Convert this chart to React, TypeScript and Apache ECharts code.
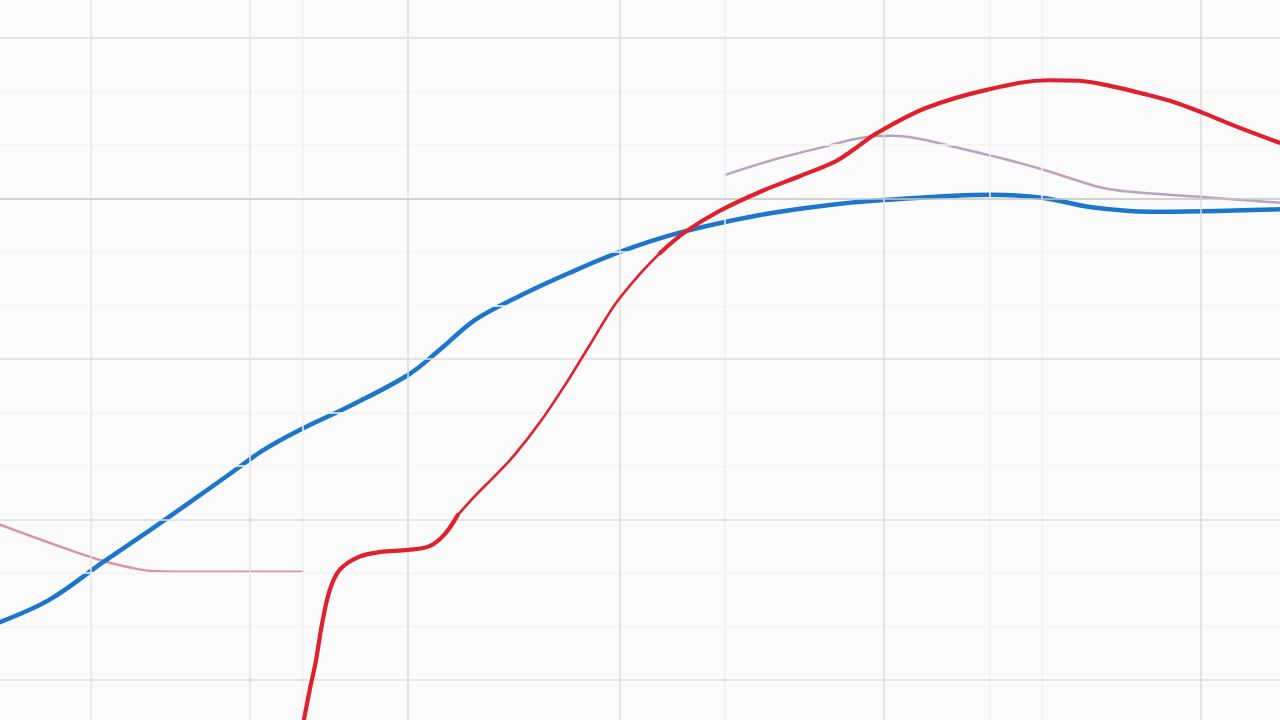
import React, { useEffect, useRef } from "react";
import * as echarts from "echarts";

// x in grid units (one minor column), y in grid units (one minor row)
const X_RANGE = [-1.72, 22.5];
const Y_RANGE = [-0.75, 12.71];

const blueSeries: [number, number][] = [
  [-1.72, 1.08], [-0.78, 1.5], [0.23, 2.2], [1.12, 2.8], [1.93, 3.36], [2.7, 3.9],
  [3.24, 4.28], [3.95, 4.67], [4.9, 5.12], [6.0, 5.7], [6.6, 6.17], [7.27, 6.73],
  [8.12, 7.18], [9.06, 7.61], [10.01, 8.0], [11.14, 8.36], [12.66, 8.69], [13.9, 8.87],
  [15.0, 8.97], [17.01, 9.07], [18.03, 9.01], [18.9, 8.84], [20.04, 8.75], [22.5, 8.8],
];

const redSeriesA: [number, number][] = [
  [4.03, -0.75], [4.14, -0.19], [4.26, 0.37], [4.37, 1.03], [4.52, 1.68], [4.71, 2.06],
  [5.07, 2.3], [5.47, 2.39], [6.0, 2.43], [6.41, 2.5], [6.7, 2.73], [6.94, 3.08],
];

const redSeriesB: [number, number][] = [
  [6.94, 3.08], [7.27, 3.44], [7.64, 3.81], [8.02, 4.21], [8.5, 4.82], [8.97, 5.51],
  [9.44, 6.26], [9.91, 7.01], [10.39, 7.59], [10.77, 7.98],
];

const redSeriesC: [number, number][] = [
  [10.77, 7.98], [11.24, 8.37], [11.9, 8.77], [12.7, 9.14], [13.42, 9.42], [14.1, 9.7],
  [14.47, 9.94], [14.87, 10.22], [15.8, 10.69], [16.95, 11.03], [18.11, 11.21],
  [18.7, 11.2], [19.3, 11.1], [19.9, 10.96], [20.5, 10.8], [21.04, 10.6], [21.74, 10.32],
  [22.5, 10.04],
];

const pinkSeries: [number, number][] = [
  [-1.72, 2.9], [-0.78, 2.56], [0.17, 2.24], [0.79, 2.09], [1.21, 2.03], [2.06, 2.02], [4.01, 2.02],
];

const mauveSeries: [number, number][] = [
  [12.0, 9.44], [12.9, 9.72], [13.85, 9.96], [14.68, 10.15], [15.18, 10.17], [15.69, 10.11],
  [16.44, 9.94], [17.2, 9.76], [18.15, 9.5], [19.09, 9.21], [19.72, 9.12], [20.98, 9.03],
  [21.93, 8.96], [22.5, 8.92],
];

const majorRows = [0, 3, 6, 12];
const baseRow = [9];
const minorRows = [1, 2, 4, 5, 7, 8, 10, 11];
const majorCols = [6, 10, 15, 21];
const lightCols = [0, 3];
const minorCols = [4, 12, 17, 18];

export default function App() {
  const ref = useRef<HTMLDivElement>(null);
  useEffect(() => {
    if (!ref.current) return;
    const chart = echarts.init(ref.current, undefined, { renderer: "svg" });
    const ml = (vals: number[], axis: "xAxis" | "yAxis", color: string, width: number) =>
      vals.map((v) => ({ [axis]: v, lineStyle: { color, width, type: "solid" } }));
    const lineSeries = (data: [number, number][], color: string, width: number, z: number) => ({
      type: "line",
      data,
      smooth: 0.35,
      showSymbol: false,
      symbol: "none",
      z,
      lineStyle: { color, width, cap: "round", join: "round" },
      silent: true,
    });
    chart.setOption({
      animation: false,
      backgroundColor: "#fbfbfb",
      grid: { left: 0, right: 0, top: 0, bottom: 0 },
      xAxis: { type: "value", min: X_RANGE[0], max: X_RANGE[1], show: false },
      yAxis: { type: "value", min: Y_RANGE[0], max: Y_RANGE[1], show: false },
      series: [
        {
          type: "line",
          data: [],
          z: 1,
          silent: true,
          markLine: {
            silent: true,
            symbol: "none",
            animation: false,
            label: { show: false },
            data: [
              ...ml(minorRows, "yAxis", "#f4f4f4", 1.5),
              ...ml(minorCols, "xAxis", "#f0f0f0", 1.5),
              ...ml(lightCols, "xAxis", "#e4e4e4", 1.5),
              ...ml(majorCols, "xAxis", "#dddddd", 1.5),
              ...ml(majorRows, "yAxis", "#dddddd", 1.5),
              ...ml(baseRow, "yAxis", "#c6c6c6", 1.5),
            ],
          },
        },
        lineSeries(pinkSeries, "#da93a5", 2.5, 3),
        lineSeries(mauveSeries, "#bba4b7", 2.5, 3),
        lineSeries(blueSeries, "#1c76cc", 4.5, 4),
        lineSeries(redSeriesA, "#e0212d", 4.2, 5),
        lineSeries(redSeriesB, "#e0212d", 2.6, 5),
        lineSeries(redSeriesC, "#e0212d", 4.2, 5),
      ],
    });
    return () => chart.dispose();
  }, []);
  return (
    <div
      ref={ref}
      style={{ position: "fixed", left: 0, top: 0, width: 1280, height: 720 }}
    />
  );
}
